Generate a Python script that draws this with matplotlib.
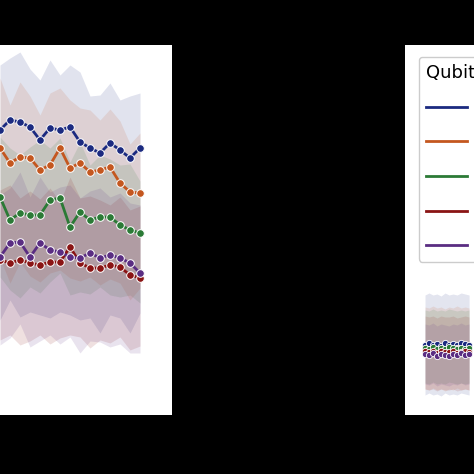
import matplotlib
matplotlib.use("Agg")
import matplotlib.pyplot as plt
import numpy as np

colors = ["#1b2a80", "#c4571f", "#2b7a36", "#8a1414", "#5a2d82"]
labels = ["5", "6", "7", "8", "9"]

# left panel: series values and band half-widths
left_vals = [
    [285, 295, 293, 288, 275, 287, 285, 288, 273, 267, 262, 272, 265, 257, 267],
    [267, 252, 258, 257, 245, 250, 267, 247, 252, 243, 245, 248, 232, 223, 222],
    [218, 195, 202, 200, 200, 215, 217, 188, 203, 195, 198, 198, 190, 185, 182],
    [155, 152, 155, 152, 150, 153, 153, 168, 152, 147, 147, 150, 148, 140, 137],
    [158, 172, 173, 158, 172, 165, 163, 158, 157, 162, 157, 160, 157, 152, 142],
]
left_up = [
    [65, 62, 70, 58, 60, 68, 55, 62, 70, 52, 58, 60, 50, 62, 55],
    [70, 58, 75, 62, 55, 72, 60, 68, 55, 62, 50, 58, 62, 48, 60],
    [60, 72, 58, 68, 75, 52, 60, 65, 70, 55, 62, 58, 60, 66, 52],
    [70, 78, 62, 72, 66, 74, 60, 70, 65, 72, 68, 60, 70, 65, 72],
    [62, 55, 70, 60, 66, 58, 65, 72, 60, 62, 70, 58, 65, 60, 68],
]
left_lo = [
    [190, 180, 195, 185, 175, 190, 182, 188, 178, 170, 180, 172, 168, 175, 165],
    [110, 120, 105, 118, 112, 108, 122, 110, 118, 105, 115, 112, 100, 108, 95],
    [80, 70, 85, 72, 78, 82, 75, 68, 80, 74, 70, 78, 72, 65, 70],
    [80, 72, 85, 78, 70, 82, 76, 88, 74, 80, 72, 78, 70, 75, 68],
    [88, 95, 82, 90, 98, 85, 92, 80, 95, 88, 84, 92, 86, 90, 80],
]

# right panel: compressed series
right_vals = [
    [70, 72, 70, 71, 69, 72, 70, 71, 70, 72, 71, 70],
    [66, 65, 67, 65, 66, 64, 66, 65, 67, 65, 66, 65],
    [67, 66, 68, 66, 67, 66, 68, 67, 66, 67, 66, 67],
    [64, 63, 64, 62, 64, 63, 63, 64, 62, 63, 64, 63],
    [61, 60, 62, 59, 61, 60, 59, 61, 60, 62, 60, 61],
]
right_up = [50, 42, 38, 35, 30]
right_lo = [50, 40, 35, 38, 30]


def bare(ax):
    ax.set_xticks([])
    ax.set_yticks([])
    for s in ax.spines.values():
        s.set_visible(False)
    ax.set_facecolor("white")


fig = plt.figure(figsize=(4.74, 4.74), dpi=100, facecolor="black")

axl = fig.add_axes([0, 59 / 474, 172 / 474, 370 / 474])
xl = np.arange(len(left_vals[0]))
for v, u, l, c in zip(left_vals, left_up, left_lo, colors):
    v = np.array(v)
    axl.fill_between(xl, v - np.array(l), v + np.array(u), color=c, alpha=0.13, lw=0)
for v, c in zip(left_vals, colors):
    axl.plot(xl, v, "-o", color=c, mfc=c, lw=2, ms=5.5, mec="white", mew=0.7)
axl.set_xlim(0, 17.2)
axl.set_ylim(0, 370)
bare(axl)

axr = fig.add_axes([405 / 474, 59 / 474, 0.6, 370 / 474])
xr = np.arange(len(right_vals[0]))
for v, u, l, c in zip(right_vals, right_up, right_lo, colors):
    v = np.array(v)
    axr.fill_between(xr, v - l, v + u, color=c, alpha=0.12, lw=0)
for v, c, lab in zip(right_vals, colors, labels):
    axr.plot(xr, v, "o", color=c, mfc=c, ms=4.5, mec="white", mew=0.6)
    axr.plot([], [], "-", color=c, lw=2, label=lab)
axr.set_xlim(-5, 66)
axr.set_ylim(0, 370)
bare(axr)
axr.legend(title="Qubits", loc="upper left", bbox_to_anchor=(0.02, 0.99),
           fontsize=12, title_fontsize=13, handlelength=2.5, labelspacing=1.0,
           frameon=True, edgecolor="#cccccc", facecolor="white", framealpha=1,
           alignment="left")

fig.savefig("out.png", dpi=100, facecolor="black")
